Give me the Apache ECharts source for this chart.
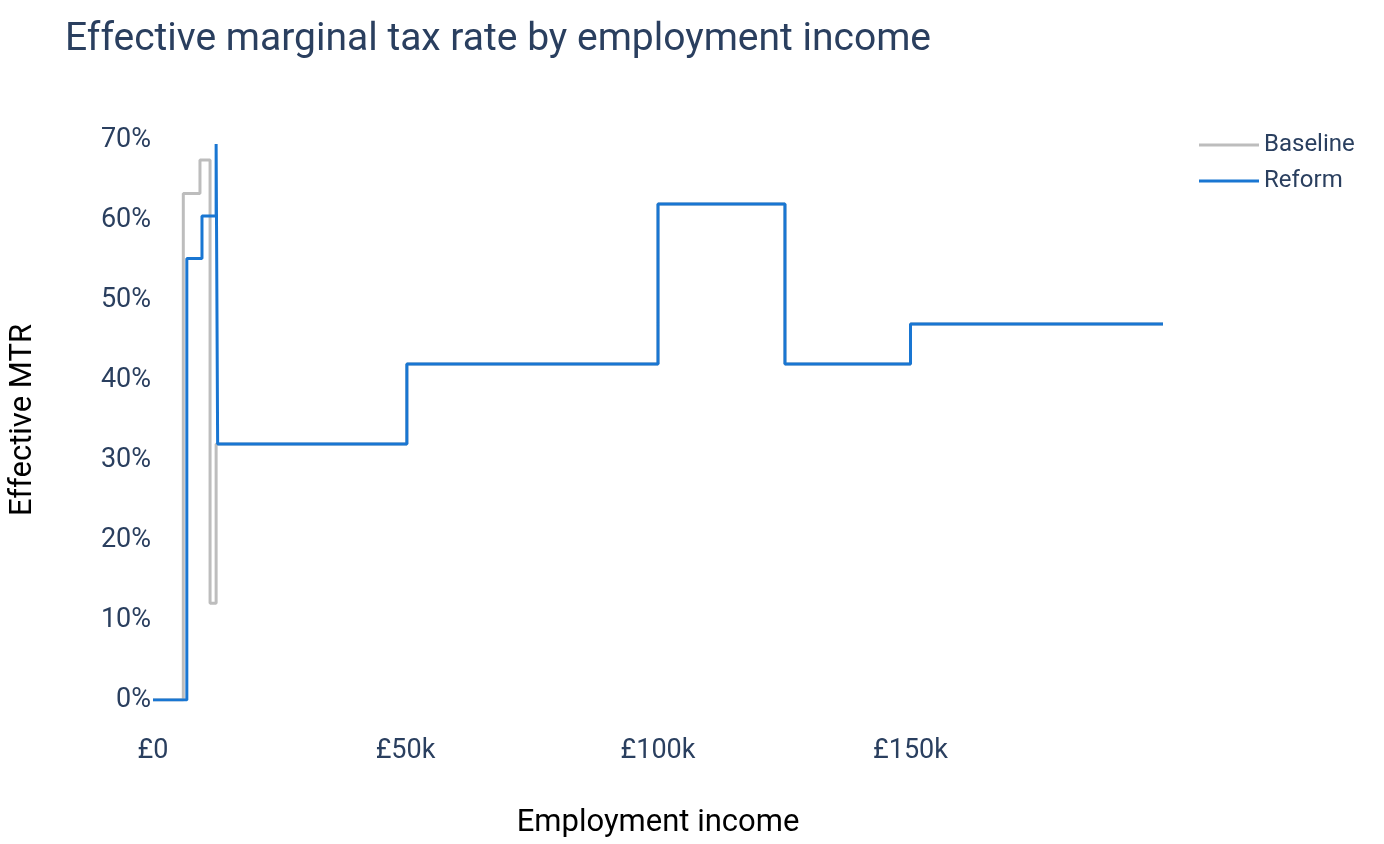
<!DOCTYPE html>
<html>
<head>
<meta charset="utf-8">
<script src="https://cdn.jsdelivr.net/npm/echarts@6/dist/echarts.min.js"></script>
<style>html,body{margin:0;padding:0;background:#fff}#main{width:1384px;height:844px}</style>
</head>
<body>
<div id="main"></div>
<script>
// bracket start income and marginal rate (%)
var baselineIncome = [0, 6000, 9300, 11300, 12500, 50270, 100000, 125140, 150000, 200000];
var baselineRate   = [0, 63.3, 67.5, 12.1, 32, 42, 62, 42, 47, 47];
var reformIncome = [0, 6700, 9700, 12500, 12800, 50270, 100000, 125140, 150000, 200000];
var reformRate   = [0, 55.2, 60.5, 69.5, 32, 42, 62, 42, 47, 47];

function pairs(xs, ys) {
    return xs.map(function (x, i) { return [x, ys[i]]; });
}

var myChart = echarts.init(document.getElementById('main'));
myChart.setOption({
    textStyle: { fontFamily: 'Roboto' },
    animation: false,
    title: {
        text: 'Effective marginal tax rate by employment income',
        left: 60, top: 16,
        textStyle: { fontSize: 39, fontWeight: 'normal', color: '#2a3f5f', fontFamily: 'Roboto' }
    },
    legend: {
        orient: 'vertical', left: 1194, top: 128, itemGap: 12,
        itemWidth: 60, itemHeight: 26,
        textStyle: { fontSize: 24, color: '#2a3f5f' },
        data: [
            { name: 'Baseline', icon: 'path://M0,12 L60,12 L60,15 L0,15 Z' },
            { name: 'Reform', icon: 'path://M0,12 L60,12 L60,15 L0,15 Z' }
        ]
    },
    grid: { left: 150, right: 221, top: 140, bottom: 143 },
    xAxis: {
        type: 'value', min: 0, max: 200000, interval: 50000,
        name: 'Employment income', nameLocation: 'middle', nameGap: 108,
        nameTextStyle: { fontSize: 31, color: '#000' },
        axisLine: { show: false }, axisTick: { show: false }, splitLine: { show: false },
        axisLabel: {
            fontSize: 27, color: '#2a3f5f', margin: 38,
            formatter: function (v) {
                if (v === 0) return '£0';
                if (v >= 200000) return '';
                return '£' + v / 1000 + 'k';
            }
        }
    },
    yAxis: {
        type: 'value', min: 0, max: 70, interval: 10,
        name: 'Effective MTR', nameLocation: 'middle', nameGap: 114, nameRotate: 90,
        nameTextStyle: { fontSize: 31, color: '#000' },
        axisLine: { show: false }, axisTick: { show: false }, splitLine: { show: false },
        axisLabel: { fontSize: 27, color: '#2a3f5f', margin: 2, formatter: '{value}%' }
    },
    series: [
        {
            name: 'Baseline', type: 'line', step: 'end', showSymbol: false,
            data: pairs(baselineIncome, baselineRate),
            lineStyle: { color: '#bdbdbd', width: 3 }, itemStyle: { color: '#bdbdbd' }
        },
        {
            name: 'Reform', type: 'line', step: 'end', showSymbol: false,
            data: pairs(reformIncome, reformRate),
            lineStyle: { color: '#1976d2', width: 3 }, itemStyle: { color: '#1976d2' }
        }
    ]
});
</script>
</body>
</html>
